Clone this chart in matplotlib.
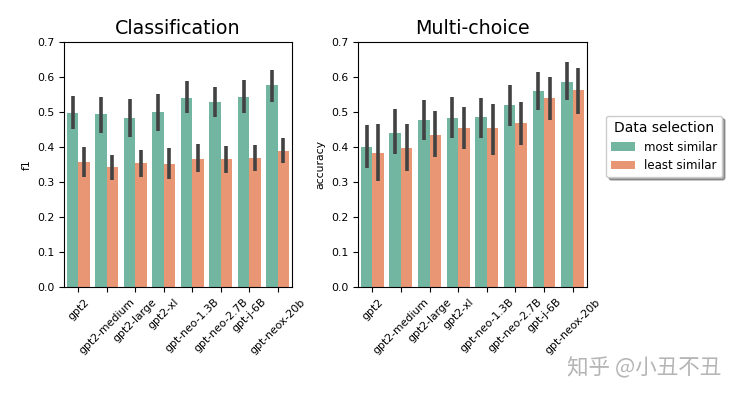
import colorsys
import numpy as np
import matplotlib
matplotlib.use('Agg')
import matplotlib.pyplot as plt
import matplotlib.colors as mcolors

models = ['gpt2', 'gpt2-medium', 'gpt2-large', 'gpt2-xl',
          'gpt-neo-1.3B', 'gpt-neo-2.7B', 'gpt-j-6B', 'gpt-neox-20b']
groups = ['most similar', 'least similar']

# classification (f1): mean, ci low, ci high
cls_most = [0.498, 0.493, 0.482, 0.499, 0.541, 0.528, 0.544, 0.576]
cls_most_lo = [0.452, 0.440, 0.428, 0.445, 0.497, 0.485, 0.497, 0.529]
cls_most_hi = [0.545, 0.543, 0.537, 0.552, 0.588, 0.572, 0.590, 0.621]
cls_least = [0.357, 0.342, 0.354, 0.352, 0.367, 0.366, 0.369, 0.389]
cls_least_lo = [0.313, 0.307, 0.313, 0.308, 0.328, 0.327, 0.330, 0.353]
cls_least_hi = [0.399, 0.376, 0.392, 0.397, 0.409, 0.404, 0.405, 0.426]

# multi-choice (accuracy)
mc_most = [0.401, 0.440, 0.476, 0.482, 0.486, 0.520, 0.559, 0.587]
mc_most_lo = [0.339, 0.380, 0.420, 0.425, 0.425, 0.460, 0.507, 0.533]
mc_most_hi = [0.463, 0.509, 0.533, 0.543, 0.541, 0.577, 0.613, 0.643]
mc_least = [0.382, 0.398, 0.434, 0.453, 0.453, 0.468, 0.540, 0.562]
mc_least_lo = [0.304, 0.331, 0.371, 0.393, 0.377, 0.406, 0.478, 0.495]
mc_least_hi = [0.466, 0.466, 0.504, 0.513, 0.523, 0.529, 0.601, 0.627]


def desat(c, prop=0.75):
    # same as seaborn's default bar saturation
    h, l, s = colorsys.rgb_to_hls(*mcolors.to_rgb(c))
    return colorsys.hls_to_rgb(h, l, s * prop)


colors = [desat('#66c2a5'), desat('#fc8d62')]

fig = plt.figure(figsize=(7.34, 3.96), dpi=100)
ax1 = fig.add_axes([0.0872, 0.2753, 0.3106, 0.6187])
ax2 = fig.add_axes([0.4877, 0.2753, 0.3120, 0.6187])


def draw(ax, series, title, ylabel):
    x = np.arange(len(models))
    w = 0.4
    for i, (vals, lo, hi) in enumerate(series):
        pos = x - 0.2 + i * w
        vals = np.array(vals)
        ax.bar(pos, vals, width=w, color=colors[i], label=groups[i], zorder=2)
        ax.vlines(pos, lo, hi, color='#424242', linewidth=2.6, zorder=3)
    ax.set_xlim(-0.5, len(models) - 0.5)
    ax.set_ylim(0, 0.7)
    ax.set_xticks(x)
    ax.set_xticklabels(models, rotation=45, fontsize=7.8)
    ax.tick_params(axis='y', labelsize=7.8)
    ax.set_title(title, fontsize=13.7)
    ax.set_ylabel(ylabel, fontsize=7.8)


draw(ax1, [(cls_most, cls_most_lo, cls_most_hi),
           (cls_least, cls_least_lo, cls_least_hi)], 'Classification', 'f1')
draw(ax2, [(mc_most, mc_most_lo, mc_most_hi),
           (mc_least, mc_least_lo, mc_least_hi)], 'Multi-choice', 'accuracy')

handles, labels = ax2.get_legend_handles_labels()
fig.legend(handles, labels, title='Data selection', loc='center left',
           bbox_to_anchor=(0.818, 0.63), fontsize=8.5, title_fontsize=10,
           shadow=True, handlelength=2.0)

fig.text(0.878, 0.07, '知乎 @小丑不丑', fontsize=15.5, color='#b5b5b5',
         ha='center', va='center', family=['Noto Sans CJK SC', 'DejaVu Sans'])

fig.savefig('out.png', dpi=100)
